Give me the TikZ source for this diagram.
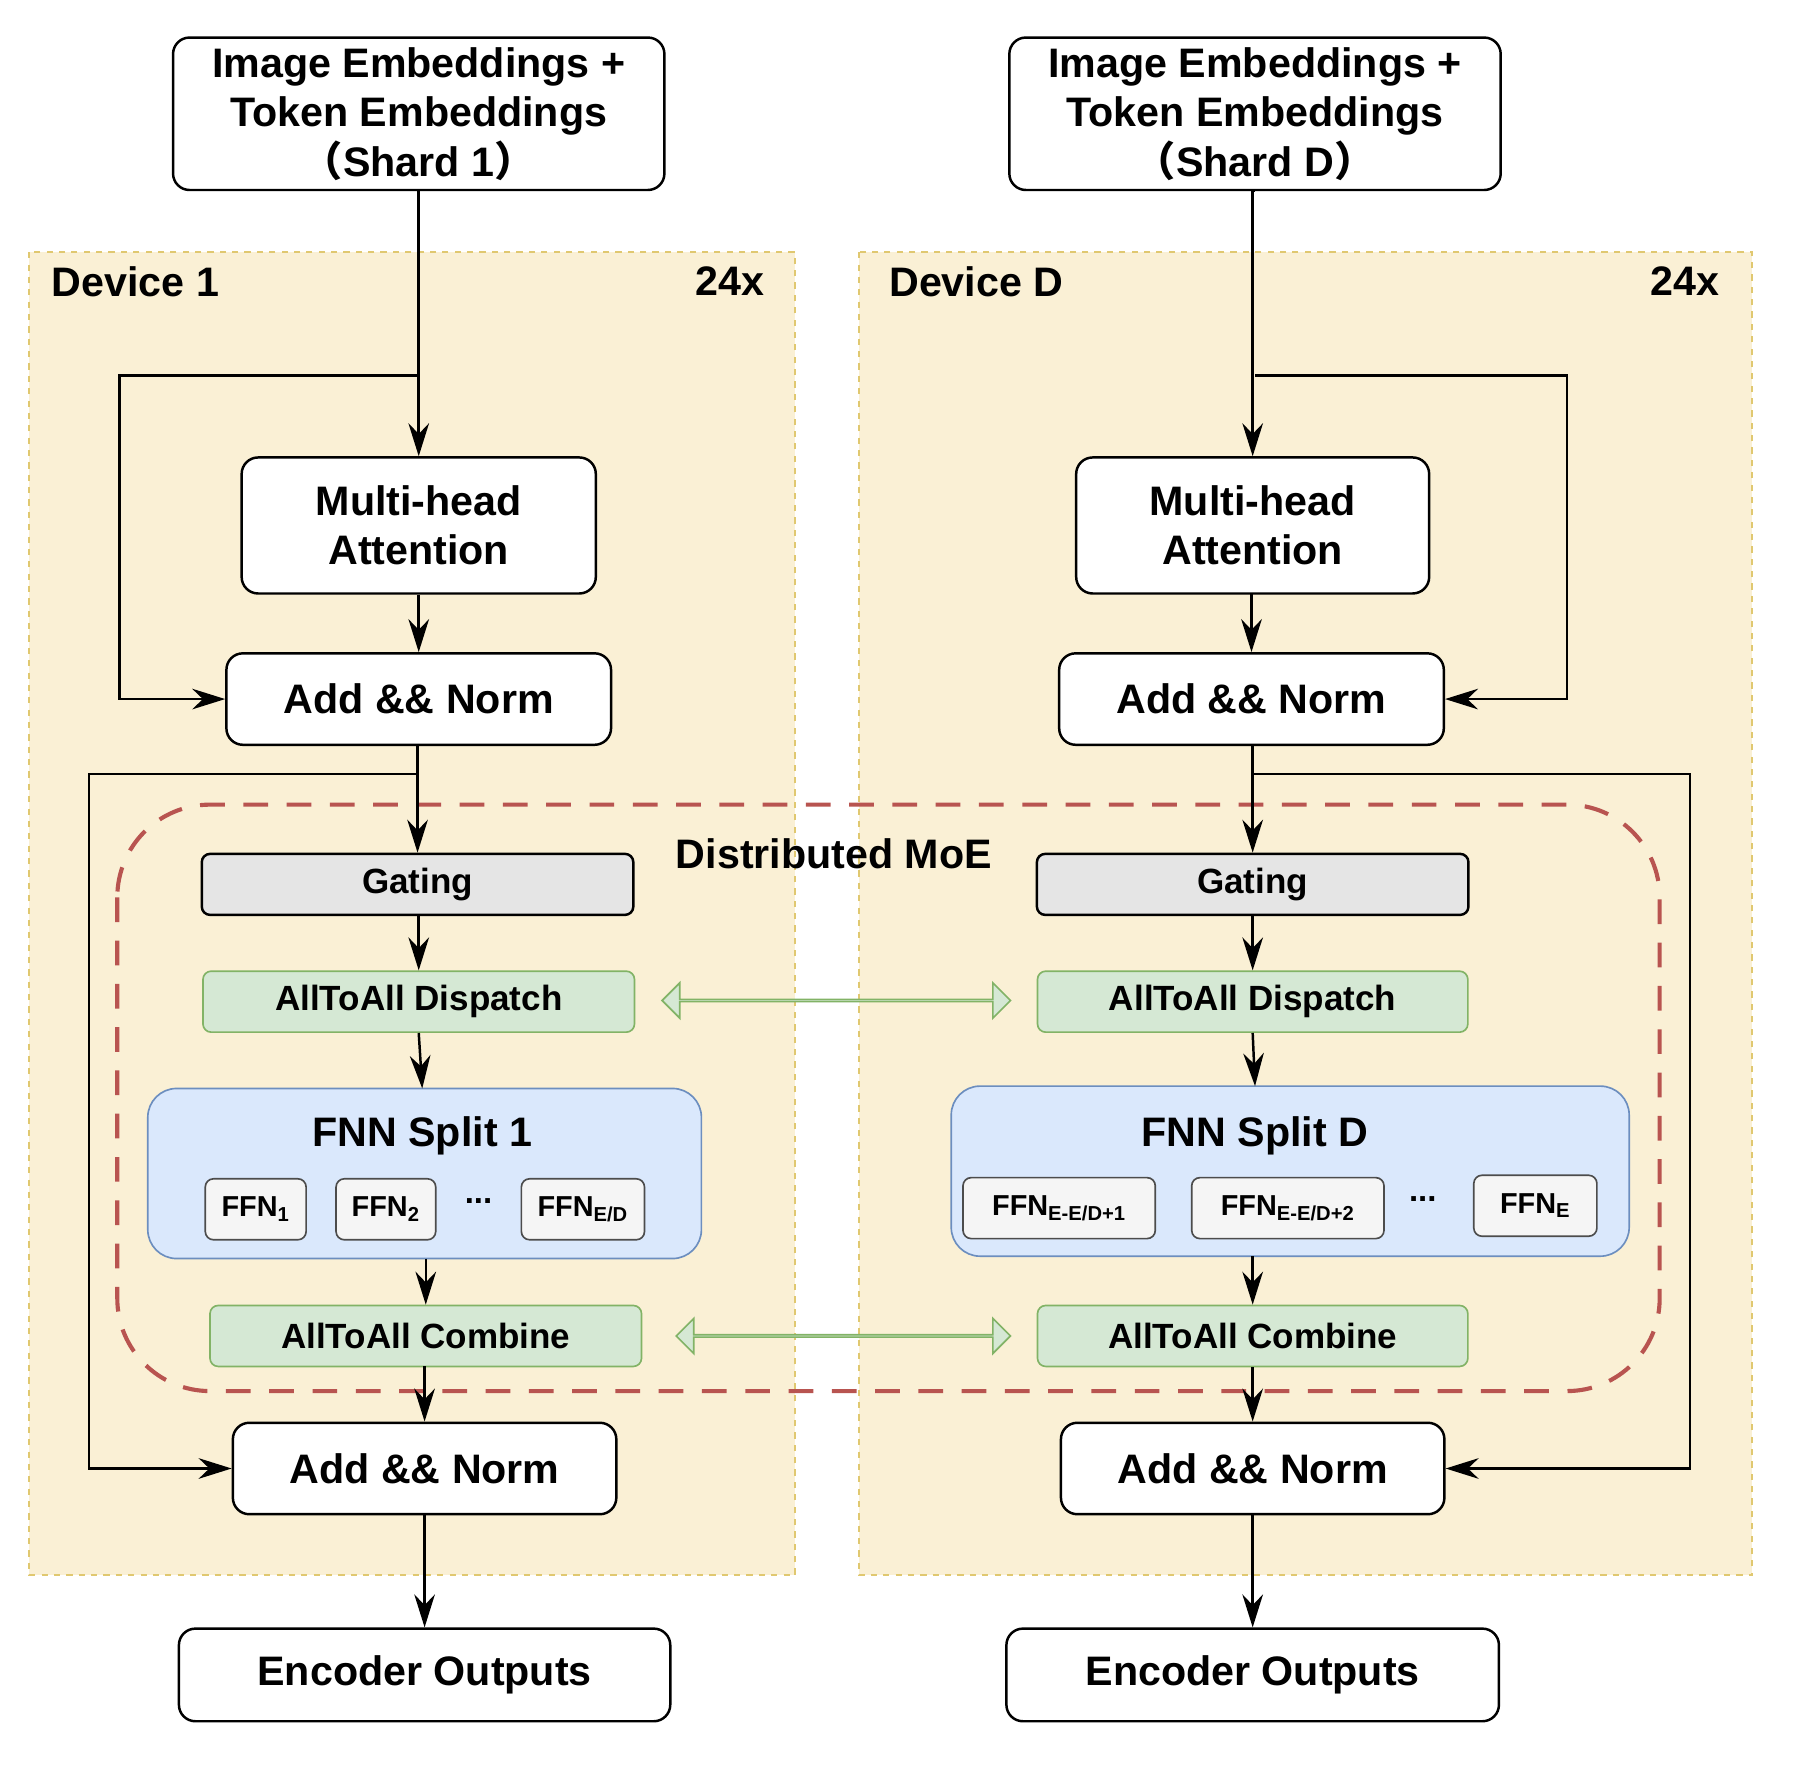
\documentclass[tikz,border=0pt]{standalone}
\usepackage{fontspec}
\setmainfont{Liberation Sans}
\newfontfamily\cjk{Noto Sans CJK SC}
\usetikzlibrary{arrows.meta,shapes.arrows}
\definecolor{panel}{HTML}{FAF0D5}
\definecolor{panelb}{HTML}{E0C870}
\definecolor{moe}{HTML}{B85450}
\definecolor{gfill}{HTML}{D5E8D4}
\definecolor{gline}{HTML}{82B366}
\definecolor{bfill}{HTML}{DAE8FC}
\definecolor{bline}{HTML}{6C8EBF}
\begin{document}
\begin{tikzpicture}[x=0.02cm,y=-0.02cm,
  box/.style={draw=black,line width=1.2pt,rounded corners=8pt,fill=white,inner sep=0pt,align=center,font=\fontsize{20}{24}\selectfont\bfseries},
  gate/.style={box,fill=gray!20,rounded corners=4pt,font=\fontsize{17}{20}\selectfont\bfseries},
  a2a/.style={box,draw=gline,line width=0.8pt,fill=gfill,rounded corners=4pt,font=\fontsize{17}{20}\selectfont\bfseries},
  split/.style={draw=bline,line width=0.8pt,fill=bfill,rounded corners=14pt},
  ffn/.style={box,draw=black!70,line width=0.8pt,fill=gray!8,rounded corners=4pt,font=\fontsize{14}{16}\selectfont\bfseries},
  arr/.style={-{Stealth[length=16pt,width=10pt]},line width=1.2pt},
  dbl/.style={draw=gline,fill=gfill,line width=0.8pt,double arrow,double arrow head extend=0.2cm,minimum height=#1,minimum width=0.6cm,inner sep=0pt},
]
\useasboundingbox (0,0) rectangle (1550,1511);
% panels
\fill[panel] (25,215) rectangle (678,1343);
\draw[panelb,dashed,line width=1pt] (25,215) rectangle (678,1343);
\fill[panel] (732,215) rectangle (1494,1343);
\draw[panelb,dashed,line width=1pt] (732,215) rectangle (1494,1343);
\node[anchor=west,font=\fontsize{20}{24}\selectfont\bfseries] (d1) at (38,240) {Device 1};
\node[anchor=east,font=\fontsize{20}{24}\selectfont\bfseries] (x1) at (658,240) {24x};
\node[anchor=west,font=\fontsize{20}{24}\selectfont\bfseries] (dD) at (752,240) {Device D};
\node[anchor=east,font=\fontsize{20}{24}\selectfont\bfseries] (xD) at (1472,240) {24x};
% moe region
\draw[moe,line width=2pt,dash pattern=on 12pt off 9pt,rounded corners=45pt] (100,686) rectangle (1415,1186);
\node[font=\fontsize{20}{24}\selectfont\bfseries] (moel) at (711,728) {Distributed MoE};
% left column
\node[box,minimum width=8.38cm,minimum height=2.6cm] (inL) at (357,97) {Image Embeddings +\\Token Embeddings\\{\cjk（}Shard 1{\cjk）}};
\node[box,minimum width=6.04cm,minimum height=2.32cm] (mhaL) at (357,448) {Multi-head\\Attention};
\node[box,minimum width=6.56cm,minimum height=1.56cm] (an1L) at (357,596) {Add \&\& Norm};
\node[gate,minimum width=7.36cm,minimum height=1.04cm] (gL) at (356,754) {Gating};
\node[a2a,minimum width=7.36cm,minimum height=1.04cm] (dL) at (357,854) {AllToAll Dispatch};
\node[a2a,minimum width=7.36cm,minimum height=1.04cm] (cL) at (363,1139) {AllToAll Combine};
\node[box,minimum width=6.54cm,minimum height=1.56cm] (an2L) at (362,1252) {Add \&\& Norm};
\node[box,minimum width=8.38cm,minimum height=1.58cm] (oL) at (362,1428) {Encoder Outputs};
\path[split] (126,928) rectangle (598,1073);
\node[font=\fontsize{20}{24}\selectfont\bfseries] (sL) at (360,968) {FNN Split 1};
\node[ffn,minimum width=1.72cm,minimum height=1.04cm] (f1) at (218,1031) {FFN\textsubscript{1}};
\node[ffn,minimum width=1.70cm,minimum height=1.04cm] (f2) at (329,1031) {FFN\textsubscript{2}};
\node[font=\fontsize{16}{18}\selectfont\bfseries] (dt1) at (408,1024) {...};
\node[ffn,minimum width=2.10cm,minimum height=1.04cm] (f3) at (497,1031) {FFN\textsubscript{E/D}};
% right column
\node[box,minimum width=8.38cm,minimum height=2.6cm] (inR) at (1070,97) {Image Embeddings +\\Token Embeddings\\{\cjk（}Shard D{\cjk）}};
\node[box,minimum width=6.02cm,minimum height=2.32cm] (mhaR) at (1068,448) {Multi-head\\Attention};
\node[box,minimum width=6.56cm,minimum height=1.56cm] (an1R) at (1067,596) {Add \&\& Norm};
\node[gate,minimum width=7.36cm,minimum height=1.04cm] (gR) at (1068,754) {Gating};
\node[a2a,minimum width=7.34cm,minimum height=1.04cm] (dR) at (1068,854) {AllToAll Dispatch};
\node[a2a,minimum width=7.34cm,minimum height=1.04cm] (cR) at (1068,1139) {AllToAll Combine};
\node[box,minimum width=6.54cm,minimum height=1.56cm] (an2R) at (1068,1252) {Add \&\& Norm};
\node[box,minimum width=8.40cm,minimum height=1.58cm] (oR) at (1068,1428) {Encoder Outputs};
\path[split] (811,926) rectangle (1389,1071);
\node[font=\fontsize{20}{24}\selectfont\bfseries] (sR) at (1070,968) {FNN Split D};
\node[ffn,minimum width=3.28cm,minimum height=1.04cm] (g1) at (903,1030) {FFN\textsubscript{E-E/D+1}};
\node[ffn,minimum width=3.28cm,minimum height=1.04cm] (g2) at (1098,1030) {FFN\textsubscript{E-E/D+2}};
\node[font=\fontsize{16}{18}\selectfont\bfseries] (dt2) at (1213,1022) {...};
\node[ffn,minimum width=2.10cm,minimum height=1.04cm] (g3) at (1309,1028) {FFN\textsubscript{E}};
% chain arrows
\foreach \a/\b in {inL/mhaL,mhaL/an1L,an1L/gL,gL/dL,cL/an2L,an2L/oL,inR/mhaR,mhaR/an1R,an1R/gR,gR/dR,cR/an2R,an2R/oR}
  \draw[arr] (\a.south) -- (\a.south -| \b.north) -- (\b.north);
\coordinate (sLt) at (360,928); \coordinate (sLb) at (363,1073);
\coordinate (sRt) at (1070,926); \coordinate (sRb) at (1068,1071);
\draw[arr] (dL.south) -- (sLt);
\draw[arr] (sLb) -- (cL.north);
\draw[arr] (dR.south) -- (sRt);
\draw[arr] (sRb) -- (cR.north);
% skips
\coordinate (k1L) at (357,320); \coordinate (k1R) at (1070,320);
\coordinate (k2L) at (357,660); \coordinate (k2R) at (1068,660);
\draw[arr] (k1L) -- (102,320) |- (an1L.west);
\draw[arr] (k1R) -- (1336,320) |- (an1R.east);
\draw[arr] (k2L) -- (76,660) |- (an2L.west);
\draw[arr] (k2R) -- (1441,660) |- (an2R.east);
% double arrows
\node[dbl=5.94cm] (da1) at (713,853) {};
\node[dbl=5.7cm] (da2) at (719,1139) {};
\end{tikzpicture}
\end{document}
